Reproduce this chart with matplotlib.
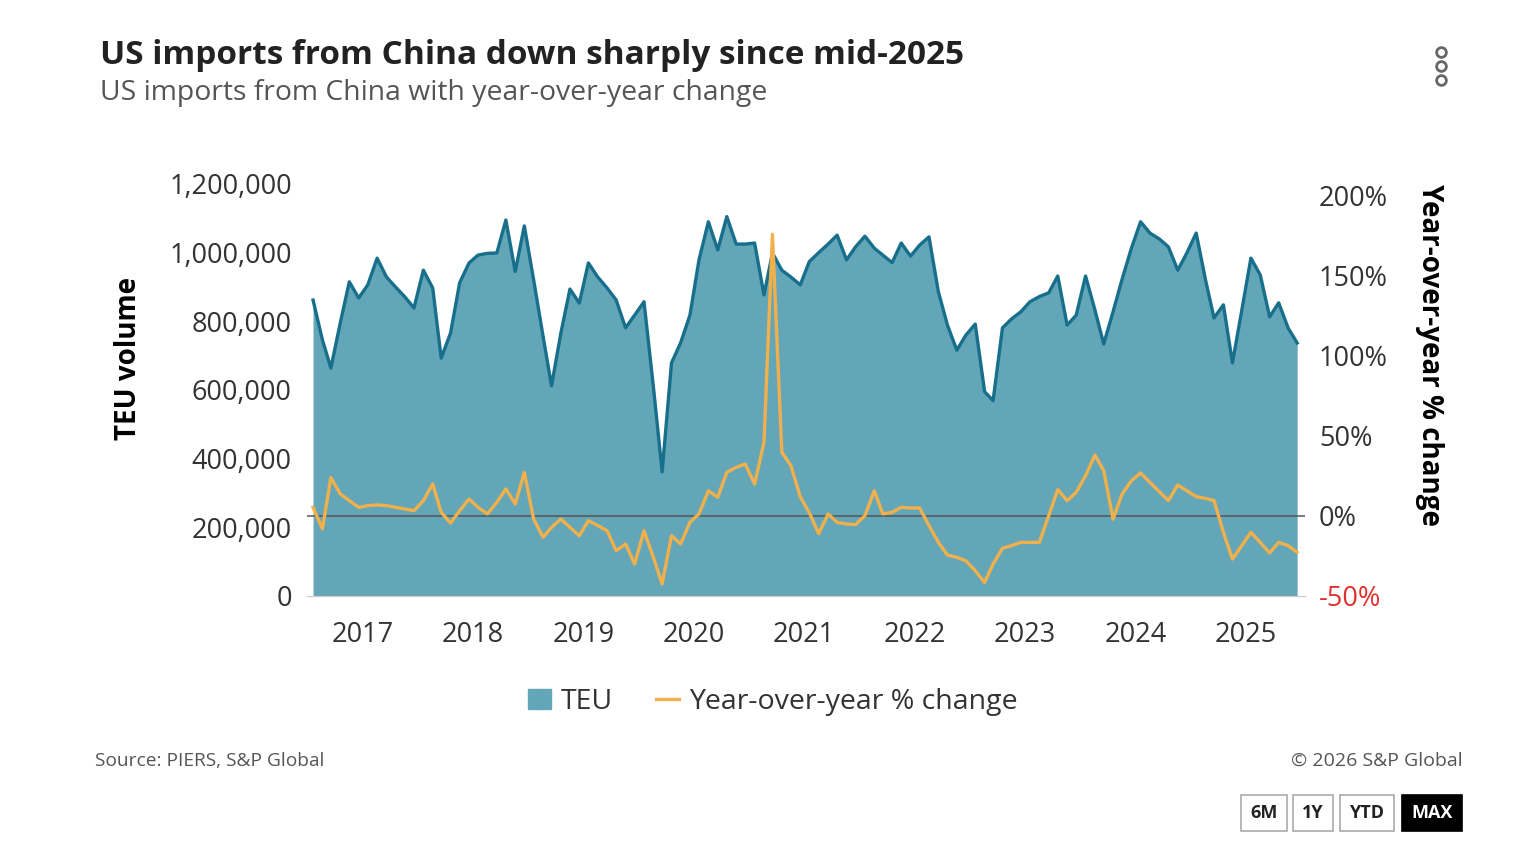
import pandas as pd
import matplotlib.pyplot as plt
from matplotlib.patches import Patch
from matplotlib.lines import Line2D
from matplotlib.ticker import FuncFormatter

plt.rcParams['font.family'] = ['Open Sans', 'DejaVu Sans']

# monthly data, Jan 2017 - Dec 2025
months = pd.date_range('2017-01-01', periods=108, freq='MS')

teu = [862000, 746000, 664000, 795000, 915000, 868000, 906000, 984000, 929000, 900000, 871000, 839000,
       949000, 897000, 693000, 766000, 912000, 970000, 993000, 998000, 999000, 1095000, 945000, 1078000,
       920000, 757000, 612000, 766000, 894000, 853000, 970000, 929000, 897000, 862000, 781000, 818000,
       857000, 610000, 362000, 679000, 737000, 818000, 979000, 1090000, 1008000, 1105000, 1025000, 1025000,
       1028000, 877000, 999000, 949000, 929000, 906000, 974000, 1000000, 1025000, 1051000, 979000, 1017000,
       1048000, 1013000, 993000, 971000, 1028000, 990000, 1022000, 1046000, 886000, 789000, 716000, 760000,
       792000, 595000, 569000, 781000, 807000, 828000, 857000, 872000, 883000, 932000, 789000, 818000,
       932000, 833000, 734000, 828000, 923000, 1014000, 1090000, 1057000, 1040000, 1017000, 949000, 999000,
       1057000, 920000, 810000, 848000, 679000, 833000, 984000, 935000, 813000, 854000, 781000, 737000]

yoy = [5.4, -8, 24, 13.8, 9.6, 5.4, 6.5, 6.9, 6.5, 5.4, 4.4, 3.3,
       9.6, 20, 2.3, -4.4, 3.3, 10.6, 5.4, 1.3, 8.5, 16.9, 7.5, 27.3,
       -1.9, -13.3, -7.1, -1.9, -7.1, -12.3, -2.9, -6, -9.2, -21.7, -17.5, -30,
       -9.2, -25.8, -42.5, -12.3, -17.5, -4, 1.3, 15.8, 11.7, 27.3, 30.4, 32.5,
       20, 46, 176, 39.8, 31.5, 12, 2, -11, 1.3, -4, -5, -5.4,
       0.2, 15.8, 1.3, 2.3, 5.4, 5, 5, -6, -16.5, -24.4, -25.8, -28,
       -34.2, -41.5, -30, -20.2, -18.5, -16.5, -16.5, -16.5, 0.2, 16.5, 9.6, 14.8,
       25.2, 38.1, 28.3, -1.9, 13.8, 22.1, 26.9, 21, 15.2, 9.6, 19.4, 15.8,
       12.1, 11, 9.6, -10.2, -26.9, -18.5, -10.2, -16.5, -23.1, -16.5, -18.5, -22.7]

years = list(range(2017, 2026))
teu_ticks = [0, 200000, 400000, 600000, 800000, 1000000, 1200000]
pct_ticks = [-50, 0, 50, 100, 150, 200]

fill_col = '#63a6b8'
line_col = '#186f8c'
orange = '#f0b04c'
txt = '#333333'

fig = plt.figure(figsize=(15.36, 8.64), dpi=100)
W, H = 1536, 864
ax = fig.add_axes([307 / W, 1 - 596 / H, (1305 - 307) / W, (596 - 184) / H])
ax2 = ax.twinx()

ax.fill_between(months, teu, 0, color=fill_col, lw=0, zorder=1)
ax.plot(months, teu, color=line_col, lw=2.4, zorder=2)
ax.set_ylim(0, 1200000)
ax.set_xlim(months[0] - pd.Timedelta(days=20), months[-1] + pd.Timedelta(days=26))
ax.set_yticks(teu_ticks)
ax.yaxis.set_major_formatter(FuncFormatter(lambda v, p: f'{int(v):,}'))
ax.set_xticks([pd.Timestamp(f'{y}-06-14') for y in years])
ax.set_xticklabels([str(y) for y in years])
ax.tick_params(axis='both', length=0, labelsize=19.5, colors=txt)
ax.tick_params(axis='x', pad=18)
ax.tick_params(axis='y', pad=11)
ax.set_ylabel('TEU volume', fontsize=20, fontweight='bold', color='black', va='center')
ax.yaxis.set_label_coords((128 - 307) / (1305 - 307), (596 - 358) / (596 - 184))

ax2.axhline(0, color='#555555', lw=1.1, zorder=1)
ax2.plot(months, yoy, color=orange, lw=2.4, zorder=3)
ax2.set_ylim(-50, 207.5)
ax2.set_yticks(pct_ticks)
ax2.set_yticklabels([f'{t}%' for t in pct_ticks])
ax2.tick_params(axis='y', length=0, labelsize=19.5, colors=txt, pad=10)
ax2.get_yticklabels()[0].set_color('#e0312f')
ax2.set_ylabel('Year-over-year % change', fontsize=20, fontweight='bold', color='black',
               rotation=-90, va='center')
ax2.yaxis.set_label_coords((1430 - 307) / (1305 - 307), (596 - 355) / (596 - 184))

for a in (ax, ax2):
    for s in ['top', 'left', 'right']:
        a.spines[s].set_visible(False)
    a.spines['bottom'].set_color('#cccccc')

# legend
handles = [Patch(facecolor=fill_col, edgecolor=fill_col),
           Line2D([0], [0], color=orange, lw=2.4)]
fig.legend(handles, ['TEU', 'Year-over-year % change'], loc='center',
           bbox_to_anchor=(773 / W, 1 - 702 / H), ncol=2, frameon=False,
           fontsize=20.5, handlelength=0.8, handleheight=0.7, columnspacing=1.5,
           handletextpad=0.35, labelcolor=txt)

# titles
fig.text(100 / W, 1 - 55 / H, 'US imports from China down sharply since mid-2025',
         fontsize=24, fontweight='bold', color='#222222', va='center', ha='left')
fig.text(100 / W, 1 - 93 / H, 'US imports from China with year-over-year change',
         fontsize=20.4, color='#555555', va='center', ha='left')

# footer
fig.text(95 / W, 1 - 761 / H, 'Source: PIERS, S&P Global', fontsize=13.8, color='#555555',
         va='center', ha='left')
fig.text(1463 / W, 1 - 761 / H, '\u00a9 2026 S&P Global', fontsize=14, color='#555555',
         va='center', ha='right')

# range buttons
for label, xc, dark in [('6M', 1264, False), ('1Y', 1313, False), ('YTD', 1367, False), ('MAX', 1432, True)]:
    fig.text(xc / W, 1 - 813 / H, label, fontsize=13, fontweight='bold',
             color='white' if dark else '#222222', ha='center', va='center',
             bbox=dict(boxstyle='square,pad=0.5', facecolor='black' if dark else 'white',
                       edgecolor='black' if dark else '#aaaaaa', lw=1.2))

# menu dots
for yd in [52, 66, 80]:
    fig.add_artist(Line2D([1441 / W], [1 - yd / H], transform=fig.transFigure, marker='o',
                          markersize=7, markerfacecolor='white', markeredgecolor='#666666',
                          markeredgewidth=2, linestyle='none'))

fig.savefig('out.png', dpi=100, facecolor='white')
